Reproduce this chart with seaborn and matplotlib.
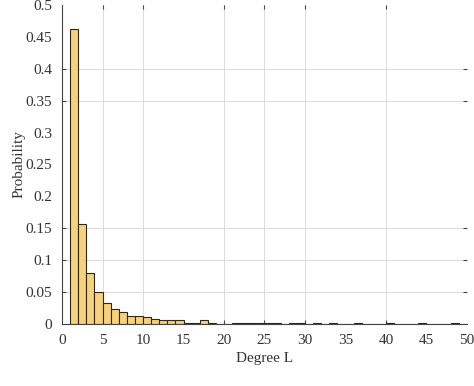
import numpy as np
import pandas as pd
import matplotlib
matplotlib.use("Agg")
import matplotlib.pyplot as plt
import seaborn as sns

# degree value (left edge of bin) and probability
degree = list(range(1, 50))
prob = [0.462, 0.157, 0.080, 0.050, 0.033, 0.023, 0.019, 0.013, 0.013, 0.010,
        0.007, 0.006, 0.006, 0.006, 0.001, 0.001, 0.006, 0.001, 0.0, 0.0,
        0.001, 0.001, 0.001, 0.001, 0.001, 0.001, 0.0, 0.001, 0.001, 0.0,
        0.001, 0.0, 0.001, 0.0, 0.0, 0.001, 0.0, 0.0, 0.0, 0.001,
        0.0, 0.0, 0.0, 0.001, 0.0, 0.0, 0.0, 0.001, 0.0]

xticks = list(range(0, 51, 5))
yticks = [0, 0.05, 0.1, 0.15, 0.2, 0.25, 0.3, 0.35, 0.4, 0.45, 0.5]
ylabels = ["0", "0.05", "0.1", "0.15", "0.2", "0.25", "0.3", "0.35", "0.4", "0.45", "0.5"]
# only some grid lines / tick marks are visible in the original
xgrid = [5, 10, 20, 25, 30, 40]
ygrid = [0.05, 0.1, 0.15, 0.35, 0.4]

df = pd.DataFrame({"degree": degree, "prob": prob})

sns.set_style("white")
plt.rcParams['font.family'] = ['Liberation Serif', 'DejaVu Serif']

fig = plt.figure(figsize=(4.74, 3.86), dpi=100)
ax = fig.add_axes([0.131, 0.161, 0.854, 0.826])

sns.histplot(data=df, x="degree", weights="prob", binwidth=1, binrange=(1, 50),
             color="#F7D27A", alpha=1, edgecolor="#2e2818", linewidth=0.8, ax=ax)

ax.set_xlim(0, 50)
ax.set_ylim(0, 0.5)
ax.xaxis.remove_overlapping_locs = False
ax.yaxis.remove_overlapping_locs = False
ax.set_xticks(xticks)
ax.set_yticks(yticks)
ax.set_yticklabels(ylabels)
ax.set_xticks(xgrid, minor=True)
ax.set_yticks(ygrid, minor=True)
ax.grid(False, which="major")
ax.grid(True, which="minor", color="#dcdcdc", linewidth=0.7)
ax.set_axisbelow(True)
for s in ["top", "right"]:
    ax.spines[s].set_visible(False)
ax.spines["left"].set_color("#444444")
ax.spines["bottom"].set_color("#444444")
ax.tick_params(which="major", length=0, labelsize=11, labelcolor="#333333", pad=7)
ax.tick_params(which="minor", direction="in", length=3, width=0.8, colors="#444444",
               top=True, right=True, bottom=True, left=True)
ax.set_xlabel("Degree L", fontsize=11, color="#333333")
ax.set_ylabel("Probability", fontsize=11, color="#333333", labelpad=0)

fig.savefig("out.png", dpi=100)
